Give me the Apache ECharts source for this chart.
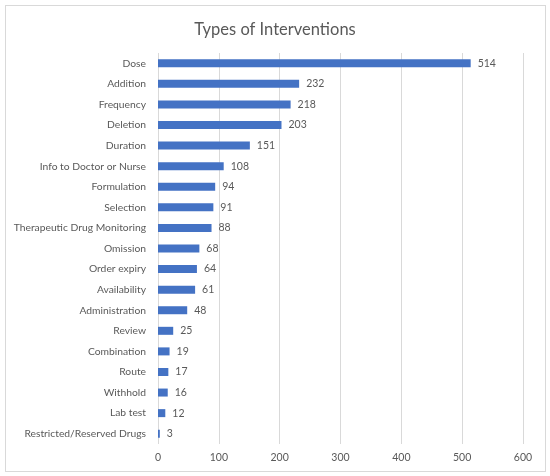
<!DOCTYPE html>
<html>
<head>
<meta charset="utf-8">
<script src="https://cdn.jsdelivr.net/npm/echarts@6/dist/echarts.min.js"></script>
<style>
html, body { margin: 0; padding: 0; background: #fff; }
#frame { position: absolute; left: 5px; top: 5px; width: 539px; height: 465px; border: 1px solid #d9d9d9; }
#chart { width: 550px; height: 476px; }
</style>
</head>
<body>
<div id="frame"></div>
<div id="chart"></div>
<script>
const categories = ['Dose', 'Addition', 'Frequency', 'Deletion', 'Duration', 'Info to Doctor or Nurse',
    'Formulation', 'Selection', 'Therapeutic Drug Monitoring', 'Omission', 'Order expiry',
    'Availability', 'Administration', 'Review', 'Combination', 'Route', 'Withhold', 'Lab test',
    'Restricted/Reserved Drugs']
const counts = [514, 232, 218, 203, 151, 108, 94, 91, 88, 68, 64, 61, 48, 25, 19, 17, 16, 12, 3]

const chart = echarts.init(document.getElementById('chart'))
const textColor = '#595959'
const font = 'Lato'
chart.setOption({
    animation: false,
    title: {
        text: 'Types of Interventions',
        left: 'center',
        top: 16,
        textStyle: { fontFamily: font, fontSize: 16.5, fontWeight: 'normal', color: textColor }
    },
    grid: { left: 158, right: 27, top: 53, bottom: 32, containLabel: false, outerBoundsMode: 'none' },
    xAxis: {
        type: 'value',
        min: 0,
        max: 600,
        interval: 100,
        axisLine: { show: false },
        axisTick: { show: false },
        axisLabel: { color: textColor, fontFamily: font, fontSize: 10.5, margin: 8 },
        splitLine: { lineStyle: { color: '#d9d9d9', width: 1 } }
    },
    yAxis: {
        type: 'category',
        inverse: true,
        data: categories,
        axisLine: { show: false },
        axisTick: { show: false },
        axisLabel: { color: textColor, fontFamily: font, fontSize: 10.3, margin: 12 }
    },
    series: [{
        type: 'bar',
        data: counts,
        barWidth: 8,
        itemStyle: { color: '#4472c4' },
        label: {
            show: true,
            position: 'right',
            distance: 7,
            color: textColor,
            fontFamily: font,
            fontSize: 10.5
        }
    }]
})
</script>
</body>
</html>
